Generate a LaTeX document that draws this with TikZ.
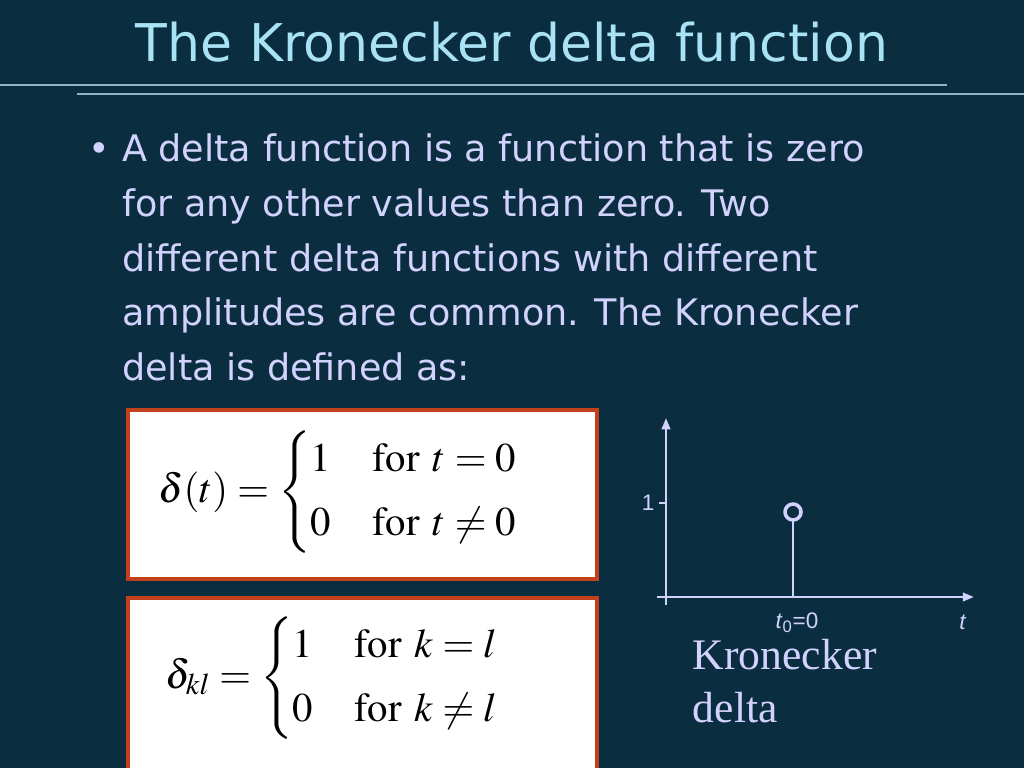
\documentclass[tikz,border=0pt]{standalone}
\usepackage{amsmath}
\usepackage{mathptmx}
\usepackage{fontspec}
\setmainfont{DejaVu Sans}
\newfontfamily\serifface{Liberation Serif}
\newfontfamily\axisface{Liberation Sans}
\usetikzlibrary{arrows.meta}
\definecolor{slidebg}{HTML}{0B2D40}
\definecolor{titlecol}{HTML}{A9E2F5}
\definecolor{bodycol}{HTML}{D2D2FF}
\definecolor{rulecol}{HTML}{8FB4CC}
\definecolor{framecol}{HTML}{C2401C}
\begin{document}
\begin{tikzpicture}[
                            x=0.025cm,
                            y=-0.025cm,
                            >={Triangle[length=8pt,width=6pt]},
                            axis/.style={draw=bodycol,line width=1.8pt},
                            mathbox/.style={draw=framecol,line width=3pt,fill=white}
                        ]
                        \fill[slidebg] (0,0) rectangle (1024,768);
                        \useasboundingbox (0,0) rectangle (1024,768);

                        % title and rules
                        \node[text=titlecol,font=\fontsize{37}{44}\selectfont] (title) at (512,42) {The Kronecker delta function};
                        \draw[rulecol,line width=1.5pt] (0,85) -- (947,85);
                        \draw[rulecol,line width=1.5pt] (77,94) -- (1024,94);

                        % bullet
                        \node[text=bodycol,font=\fontsize{26}{38.9}\selectfont,anchor=north west,align=left] (bullet) at (84,129)
                            {\textbullet\ A delta function is a function that is zero\\
                            \phantom{\textbullet\ }for any other values than zero. Two\\
                            \phantom{\textbullet\ }different delta functions with different\\
                            \phantom{\textbullet\ }amplitudes are common. The Kronecker\\
                            \phantom{\textbullet\ }delta is defined as:};

                        % formula boxes
                        \draw[mathbox] (128,410) rectangle (597,579);
                        \node (deltat) at (338,492) {\fontsize{29}{33}\selectfont$\delta(t)=\begin{cases}1 & \mathrm{for}\ t=0\\[6pt] 0 & \mathrm{for}\ t\neq 0\end{cases}$};
                        \draw[mathbox] (128,598) rectangle (597,790);
                        \node (deltakl) at (332,678) {\fontsize{29}{33}\selectfont$\delta_{kl}=\begin{cases}1 & \mathrm{for}\ k=l\\[6pt] 0 & \mathrm{for}\ k\neq l\end{cases}$};

                        % plot
                        \draw[axis,->] (666,605) -- (666,418);
                        \draw[axis,->] (657,597) -- (974,597);
                        \draw[axis] (659,503) -- (666,503);
                        \draw[axis] (793,597) -- (793,521);
                        \draw[axis,line width=2.5pt] (793,512) circle (8);
                        \node[text=bodycol,font=\axisface\fontsize{16}{18}\selectfont] (one) at (648,503) {1};
                        \node[text=bodycol,font=\axisface\fontsize{16}{18}\selectfont] (tzero) at (797,623) {\textit{t}$_{\text{0}}$=0};
                        \node[text=bodycol,font=\axisface\fontsize{16}{18}\selectfont] (tlab) at (963,622) {\textit{t}};
                        \node[text=bodycol,font=\serifface\fontsize{31}{38}\selectfont,anchor=north west,align=left] (kron) at (688,634) {Kronecker\\delta};
                    \end{tikzpicture}
\end{document}
